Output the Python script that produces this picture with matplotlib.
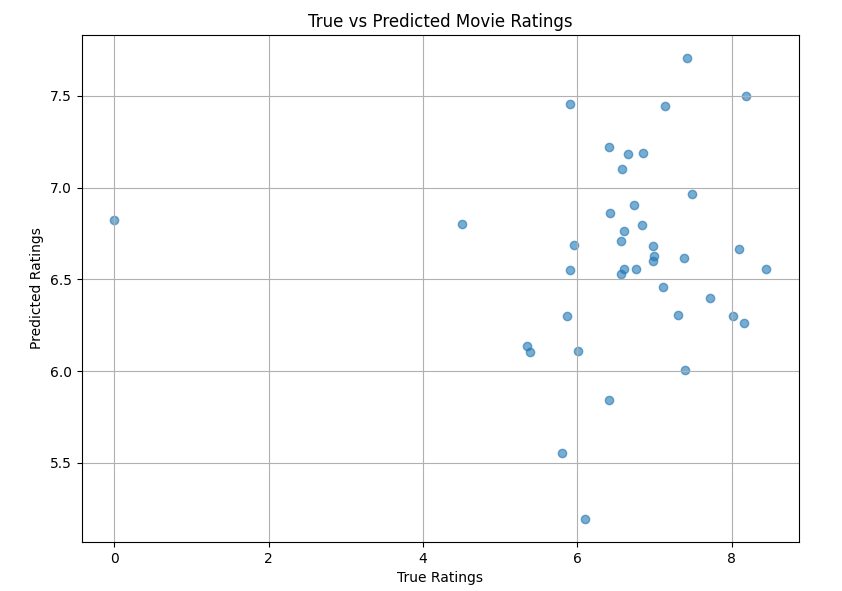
import matplotlib
matplotlib.use("Agg")
import matplotlib.pyplot as plt

true_ratings = [7.42, 8.19, 5.90, 7.14, 6.41, 6.66, 6.85, 6.58, 7.49, 6.74,
                6.42, 6.84, 6.61, 6.57, 5.95, 6.98, 8.09, 6.99, 6.98, 7.38,
                5.90, 6.61, 6.76, 6.57, 8.45, 7.11, 7.72, 7.30, 8.02, 8.16,
                5.86, 5.35, 5.39, 6.01, 7.40, 6.41, 5.80, 6.10, 0.0, 4.50]
predicted_ratings = [7.707, 7.50, 7.458, 7.445, 7.222, 7.184, 7.189, 7.103, 6.965, 6.905,
                     6.862, 6.796, 6.764, 6.709, 6.687, 6.683, 6.667, 6.629, 6.601, 6.618,
                     6.552, 6.559, 6.558, 6.529, 6.558, 6.458, 6.40, 6.305, 6.301, 6.263,
                     6.301, 6.138, 6.103, 6.110, 6.007, 5.843, 5.554, 5.194, 6.825, 6.80]

fig, ax = plt.subplots(figsize=(8.42, 5.91), dpi=100)
fig.subplots_adjust(left=0.097, right=0.949, top=0.941, bottom=0.083)
ax.scatter(true_ratings, predicted_ratings, alpha=0.6)
ax.set_title("True vs Predicted Movie Ratings")
ax.set_xlabel("True Ratings")
ax.set_ylabel("Predicted Ratings")
ax.grid(True)
fig.savefig("out.png", dpi=100)
